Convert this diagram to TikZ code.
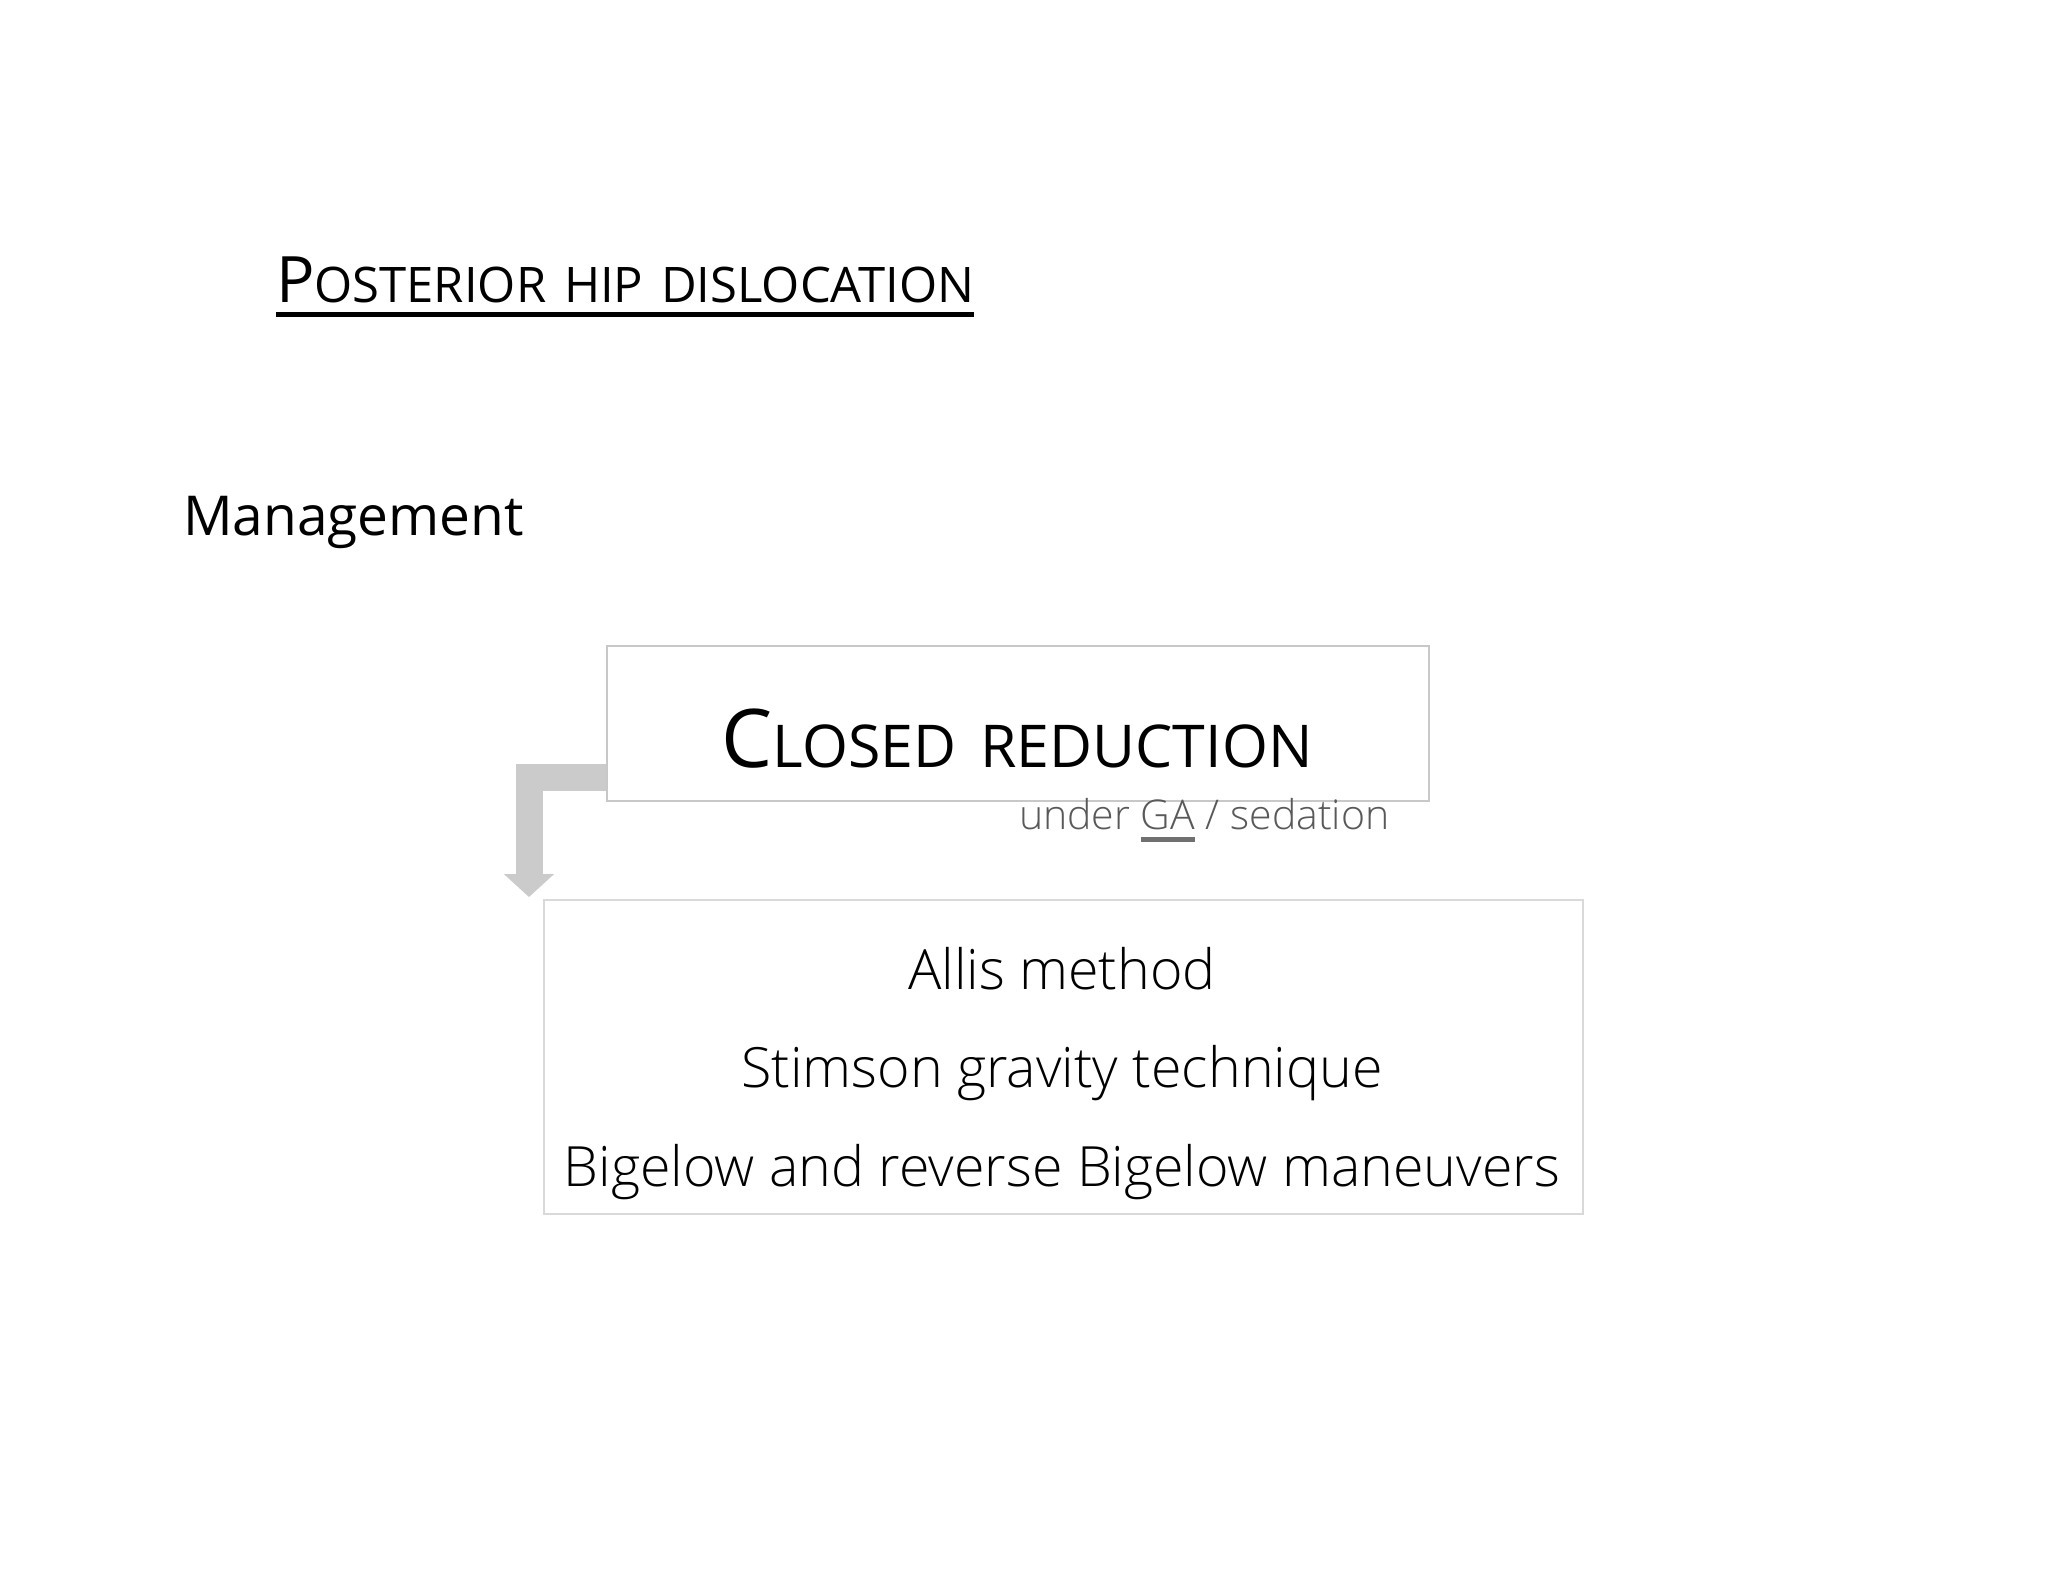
\documentclass[tikz,border=0pt]{standalone}
\usepackage{fontspec}
\setmainfont{Open Sans}
\newfontfamily\lightfont{Open Sans Light}
\usetikzlibrary{arrows.meta}
\definecolor{boxgray}{HTML}{C8C8C8}
\definecolor{boxgray2}{HTML}{D9D9D9}
\definecolor{arrowgray}{HTML}{CBCBCB}
\definecolor{subgray}{HTML}{595959}
\definecolor{ulgray}{HTML}{707070}
\tikzset{
  txt/.style={inner sep=0pt, outer sep=0pt},
  frame/.style={draw=boxgray, line width=2pt, fill=white},
  frame2/.style={draw=boxgray2, line width=2pt, fill=white},
  blockarrow/.style={draw=arrowgray, line width=27pt, -{Triangle[width=49pt,length=23pt]}, line join=miter, shorten >=2pt}
}
\begin{document}
\begin{tikzpicture}[x=1pt,y=-1pt]
\useasboundingbox[fill=white] (0,0) rectangle (2048,1582);
% title
\node[txt, anchor=base west] (title) at (276,302)
  {\fontsize{64}{64}\selectfont P\fontsize{49}{49}\selectfont OSTERIOR\hspace{5pt} HIP\hspace{5pt} DISLOCATION};
\draw[line width=5pt] ([yshift=-12pt]title.base west) -- ([yshift=-12pt]title.base east);
% management
\node[txt, anchor=base west] (mgmt) at (183,535)
  {\fontsize{55}{55}\selectfont Management};
% boxes
\node[frame, minimum width=822pt, minimum height=155pt, anchor=north west, inner sep=0pt] (cr) at (606,645) {};
\node[txt, anchor=base] (crtext) at (1017,767)
  {\fontsize{81}{81}\selectfont C\fontsize{59}{59}\selectfont LOSED\hspace{9pt} REDUCTION};
\node[txt, anchor=base west, text=subgray] (under) at (1019,829)
  {\lightfont\fontsize{41}{41}\selectfont under {\setbox0\hbox{GA}\rlap{\color{ulgray}\rule[-13pt]{\wd0}{5pt}}\box0} / sedation};
\node[frame2, minimum width=1039pt, minimum height=314pt, anchor=north west, inner sep=0pt] (methods) at (543,899) {};
\node[txt, anchor=base] (m1) at (1062,989) {\lightfont\fontsize{55.5}{55.5}\selectfont Allis method};
\node[txt, anchor=base] (m2) at (1062,1087) {\lightfont\fontsize{55.5}{55.5}\selectfont Stimson gravity technique};
\node[txt, anchor=base] (m3) at (1062,1186) {\lightfont\fontsize{55.5}{55.5}\selectfont Bigelow and reverse Bigelow maneuvers};
% arrow
\coordinate (a0) at (606,777);
\coordinate (a1) at (529,899);
\draw[blockarrow] (a0) -| (a1);
\end{tikzpicture}
\end{document}
